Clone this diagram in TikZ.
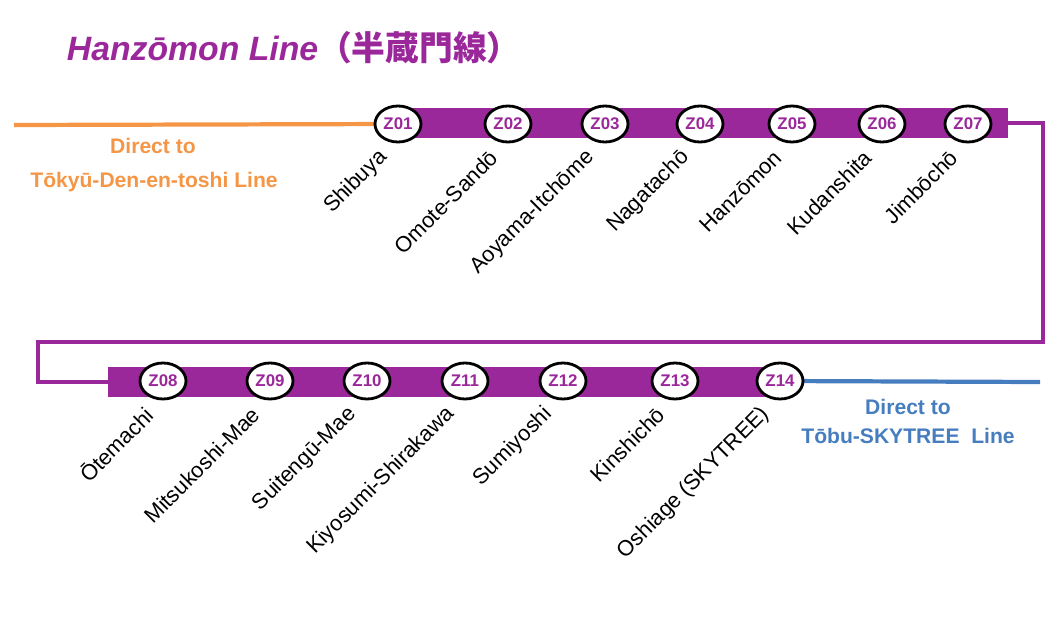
\documentclass[tikz,border=0pt]{standalone}
\usepackage{fontspec}
\setmainfont{Liberation Sans}
\newfontfamily\cjk{Noto Sans CJK JP}
\usetikzlibrary{positioning,shapes.geometric}
\definecolor{hzpurple}{RGB}{155,40,155}
\definecolor{tkorange}{RGB}{245,150,70}
\definecolor{tbblue}{RGB}{70,125,190}
\tikzset{
  stn/.style={ellipse, draw=black, line width=2pt, fill=white, minimum width=1.15cm, minimum height=0.9cm, inner sep=0pt, text=hzpurple, font=\bfseries\fontsize{12}{13}\selectfont},
  stname/.style={anchor=east, rotate=45, font=\fontsize{15.5}{17}\selectfont, inner sep=0pt},
  direct/.style={font=\bfseries\fontsize{15}{17}\selectfont}
}
\begin{document}
\begin{tikzpicture}[x=0.025cm, y=-0.025cm]
    \useasboundingbox (0,0) rectangle (1061,631);
    % Title
    \node[anchor=west, text=hzpurple, font=\bfseries\itshape\fontsize{24}{27}\selectfont] (title) at (62,48) {Hanzōmon Line{\cjk\upshape（半蔵門線）}};

    % Line bars
    \fill[hzpurple] (395,108) rectangle (1008,138);
    \fill[hzpurple] (108,367) rectangle (790,397);
    \coordinate (topend) at (1008,123);
    \coordinate (botstart) at (108,382);
    \draw[hzpurple, line width=3.5pt] (topend) -- (1043,123) -- (1043,342) -- (38,342) -- (38,382) -- (botstart);

    % Through services
    \coordinate (orangeend) at (14,125);
    \coordinate (blueend) at (1040,382);

    % Stations
    \foreach \id/\x/\y/\name in {Z01/398/124/Shibuya, Z02/508/124/Omote-Sandō, Z03/605/124/Aoyama-Itchōme,
        Z04/700/124/Nagatachō, Z05/792/124/Hanzōmon, Z06/882/124/Kudanshita, Z07/968/124/Jimbōchō,
        Z08/163/381/Ōtemachi, Z09/270/381/Mitsukoshi-Mae, Z10/367/381/Suitengū-Mae, Z11/465/381/Kiyosumi-Shirakawa,
        Z12/563/381/Sumiyoshi, Z13/675/381/Kinshichō, Z14/780/381/Oshiage (SKYTREE)} {
        \coordinate (p\id) at (\x,\y);
    }
    \draw[tkorange, line width=3pt] (orangeend) -- (pZ01);
    \draw[tbblue, line width=3pt] (pZ14) -- (blueend);
    \foreach \id/\x/\y/\name in {Z01/398/124/Shibuya, Z02/508/124/Omote-Sandō, Z03/605/124/Aoyama-Itchōme,
        Z04/700/124/Nagatachō, Z05/792/124/Hanzōmon, Z06/882/124/Kudanshita, Z07/968/124/Jimbōchō,
        Z08/163/381/Ōtemachi, Z09/270/381/Mitsukoshi-Mae, Z10/367/381/Suitengū-Mae, Z11/465/381/Kiyosumi-Shirakawa,
        Z12/563/381/Sumiyoshi, Z13/675/381/Kinshichō, Z14/780/381/Oshiage (SKYTREE)} {
        \node[stn] (\id) at (\x,\y) {\id};
        \node[stname] (n\id) at (\x-14,\y+30) {\name};
    }

    % Direct service labels
    \node[direct, text=tkorange] (tkyA) at (153,146) {Direct to};
    \node[direct, text=tkorange] (tkyB) at (154,182) {Tōkyū-Den-en-toshi Line};
    \node[direct, text=tbblue] (tbA) at (908,407) {Direct to};
    \node[direct, text=tbblue] (tbB) at (908,436) {Tōbu-SKYTREE~ Line};
\end{tikzpicture}
\end{document}
